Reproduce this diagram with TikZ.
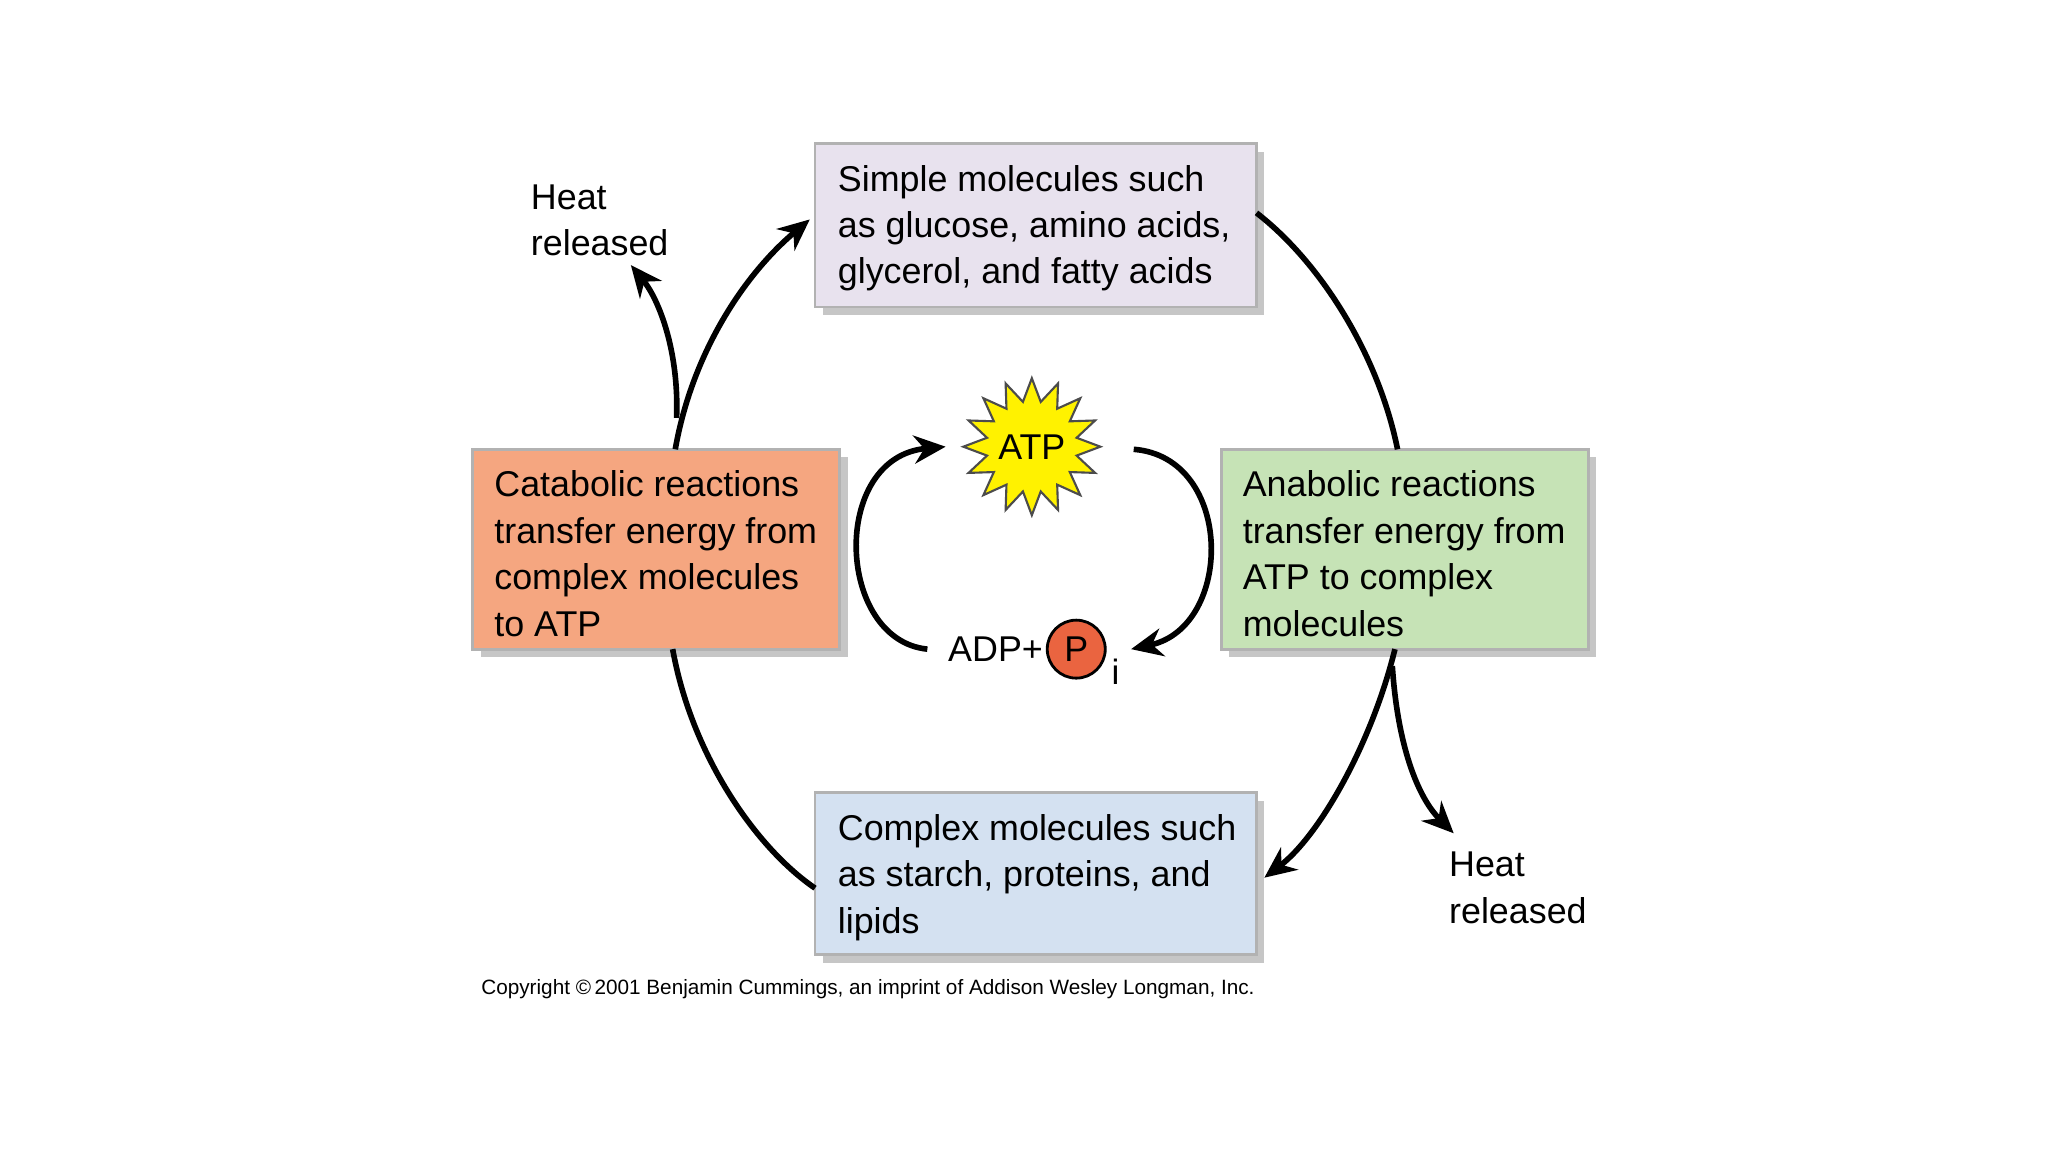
\documentclass[tikz,border=0pt]{standalone}
\usepackage{fontspec}
\setmainfont{Liberation Sans}
\usetikzlibrary{shapes.geometric,arrows.meta}
\begin{document}
\begin{tikzpicture}[x=0.01306cm,y=-0.01306cm,
 conn/.style={line width=1.6pt},
 arr/.style={conn,-{Stealth[length=9pt,width=8pt]}},
 lbl/.style={align=left,font=\fontsize{10.2}{13.2}\selectfont}]
\useasboundingbox[fill=white] (0,0) rectangle (1568,882);
\definecolor{lav}{HTML}{E8E2EE}\definecolor{sal}{HTML}{F5A680}
\definecolor{grn}{HTML}{C6E3B6}\definecolor{blu}{HTML}{D4E1F1}
\definecolor{pcol}{HTML}{EA6440}
\foreach \a/\b/\c/\d in {624/110/962/235,362/344/643/497,935/344/1216/497,624/607/962/731}
  \fill[gray!45] (\a+6,\b+6) rectangle (\c+6,\d+6);
\draw[fill=lav,draw=gray!60,line width=0.8pt] (624,110) rectangle (962,235);
\draw[fill=sal,draw=gray!60,line width=0.8pt] (362,344) rectangle (643,497);
\draw[fill=grn,draw=gray!60,line width=0.8pt] (935,344) rectangle (1216,497);
\draw[fill=blu,draw=gray!60,line width=0.8pt] (624,607) rectangle (962,731);
\node[lbl,anchor=north west] (top) at (632,117) {Simple molecules such\\as glucose, amino acids,\\glycerol, and fatty acids};
\node[lbl,anchor=north west] (left) at (369,351) {Catabolic reactions\\transfer energy from\\complex molecules\\to ATP};
\node[lbl,anchor=north west] (right) at (942,351) {Anabolic reactions\\transfer energy from\\ATP to complex\\molecules};
\node[lbl,anchor=north west] (bot) at (632,614) {Complex molecules such\\as starch, proteins, and\\lipids};
\node[lbl,anchor=north west] (h1) at (397,132) {Heat\\released};
\node[lbl,anchor=north west] (h2) at (1100,643) {Heat\\released};
\node[star,star points=16,star point ratio=1.5,minimum size=1.37cm,fill=yellow,draw=black!70,line width=0.6pt,inner sep=0pt] (atp) at (790,342) {};
\node[font=\fontsize{10.2}{12}\selectfont] at (atp) {ATP};
\node[lbl,anchor=east,inner sep=0pt] (adp) at (799,497) {ADP+};
\node[circle,fill=pcol,draw=black,line width=0.8pt,minimum size=0.58cm,inner sep=0pt,font=\fontsize{10.2}{12}\selectfont] (p) at (824,497) {P};
\node[font=\fontsize{10}{12}\selectfont] (i) at (854,514) {i};
\coordinate (a1) at (517,344); \coordinate (a2) at (620,168);
\draw[arr] (a1) .. controls (530,270) and (570,210) .. (a2);
\draw[arr] (518,320) .. controls (520,270) and (505,230) .. (483,203);
\draw[conn] (962,163) .. controls (1010,200) and (1055,270) .. (1070,344);
\draw[arr] (1068,497) .. controls (1050,570) and (1010,640) .. (968,672);
\draw[arr] (1066,510) .. controls (1070,570) and (1085,610) .. (1113,638);
\draw[conn] (624,680) .. controls (580,650) and (530,580) .. (515,497);
\draw[arr] (710,497) .. controls (640,490) and (635,350) .. (724,342);
\draw[arr] (868,344) .. controls (945,350) and (945,480) .. (866,497);
\node[anchor=west,font=\fontsize{5.9}{8}\selectfont] (cp) at (359,757) {Copyright \textcopyright\,2001 Benjamin Cummings, an imprint of Addison Wesley Longman, Inc.};
\end{tikzpicture}
\end{document}
